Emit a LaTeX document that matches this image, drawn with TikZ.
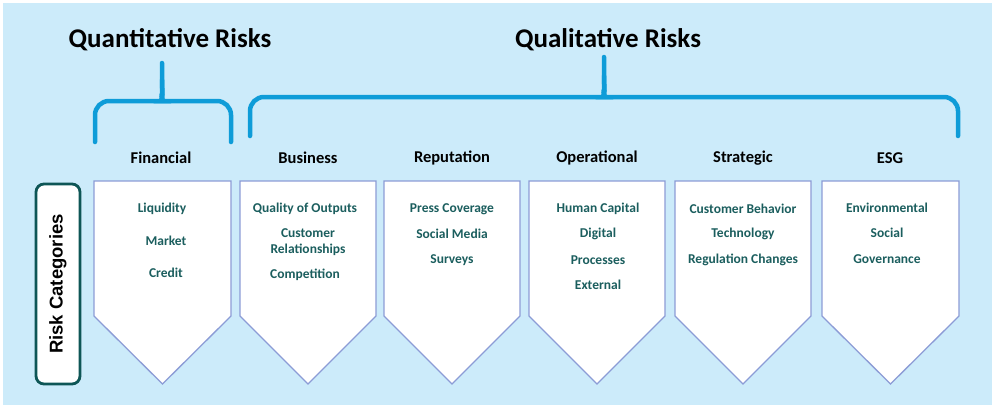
\documentclass[tikz,border=0pt]{standalone}
\usepackage{fontspec}
\setmainfont{Carlito}
\newfontfamily\arialf{Liberation Sans}
\definecolor{bg}{HTML}{CCEBFA}
\definecolor{brc}{HTML}{0E9CD8}
\definecolor{teal}{HTML}{0E5656}
\definecolor{itm}{HTML}{1B5E5E}
\definecolor{pent}{HTML}{8C9CD6}
\begin{document}
\begin{tikzpicture}[x=1pt,y=-1pt,
  brace/.style={draw=brc,line width=4.5pt,line cap=round,rounded corners=14pt},
  pentbox/.style={draw=pent,fill=white,line width=1.3pt,line join=miter},
  cat/.style={font=\bfseries\fontsize{16.5}{19}\selectfont,text=black},
  item/.style={font=\bfseries\fontsize{13.5}{16.5}\selectfont,text=itm,align=center},
  title/.style={font=\bfseries\fontsize{27}{32}\selectfont,text=black}]
\useasboundingbox (0,0) rectangle (995,408);
\fill[white] (0,0) rectangle (995,408);
\fill[bg] (3,3) rectangle (992,405);
% braces
\draw[brace] (95,142) -- (95,101) -- (150,101) .. controls (160,101) and (162,92) .. (162,80) -- (162,63);
\draw[brace] (231,142) -- (231,101) -- (174,101) .. controls (164,101) and (162,92) .. (162,80);
\draw[brace] (250,136) -- (250,97) -- (592,97) .. controls (602,97) and (604,88) .. (604,76) -- (604,57);
\draw[brace] (958,136) -- (958,97) -- (616,97) .. controls (606,97) and (604,88) .. (604,76);
\node[title] (qn) at (170,40) {Quantitative Risks};
\node[title] (ql) at (608,40) {Qualitative Risks};
% risk categories box
\node[draw=teal,line width=2.8pt,fill=white,rounded corners=8pt,minimum width=44pt,minimum height=200pt] (rc) at (58,284) {};
\node[rotate=90,font=\arialf\bfseries\fontsize{18.5}{22}\selectfont] (rct) at (rc) {Risk Categories};
% pentagons
\foreach \l/\r/\nm in {94/231/f,240/376/b,384/520/r,529/665/o,675/811/s,822/959/e}{
  \draw[pentbox] (\l,181) -- (\r,181) -- (\r,316) -- ({(\l+\r)/2},384) -- (\l,316) -- cycle;
}
\node[cat] (cf) at (161,158) {Financial};
\node[cat] (cb) at (308,158) {Business};
\node[cat] (cr) at (452,158) {Reputation};
\node[cat] (co) at (597,158) {Operational};
\node[cat] (cs) at (743,158) {Strategic};
\node[cat] (ce) at (890,158) {ESG};
\node[item] (f1) at (162,209) {Liquidity};
\node[item] (f2) at (166,241) {Market};
\node[item] (f3) at (166,273) {Credit};
\node[item] (b1) at (305,209) {Quality of Outputs};
\node[item,align=center] (b2) at (308,242) {Customer\\Relationships};
\node[item] (b3) at (305,275) {Competition};
\node[item] (r1) at (452,209) {Press Coverage};
\node[item] (r2) at (452,234) {Social Media};
\node[item] (r3) at (452,260) {Surveys};
\node[item] (o1) at (598,209) {Human Capital};
\node[item] (o2) at (598,234) {Digital};
\node[item] (o3) at (598,260) {Processes};
\node[item] (o4) at (598,285) {External};
\node[item] (s1) at (743,209) {Customer Behavior};
\node[item] (s2) at (743,234) {Technology};
\node[item] (s3) at (743,260) {Regulation Changes};
\node[item] (e1) at (887,208) {Environmental};
\node[item] (e2) at (887,233) {Social};
\node[item] (e3) at (887,259) {Governance};
\end{tikzpicture}
\end{document}
